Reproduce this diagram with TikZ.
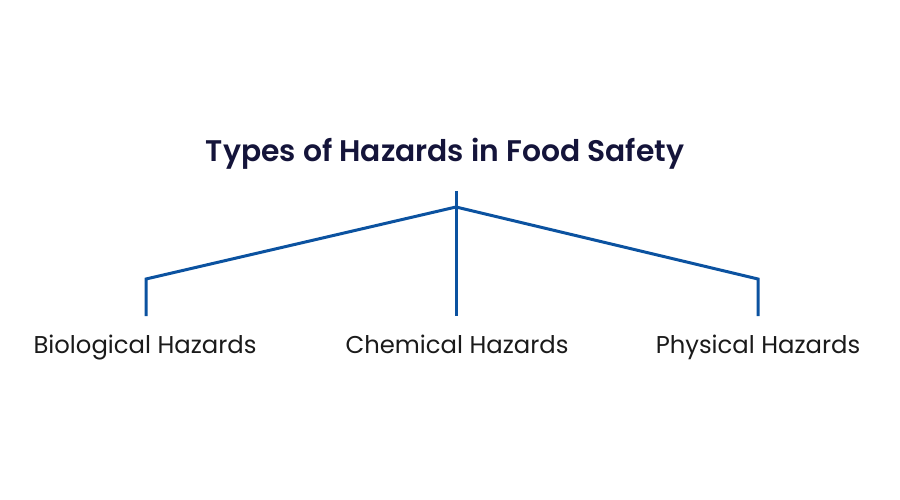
\documentclass[tikz,border=0pt]{standalone}
\usepackage{fontspec}
\setmainfont{Poppins}[BoldFont={Poppins SemiBold}]
\definecolor{linec}{HTML}{0B52A0}
\definecolor{titlec}{HTML}{14143A}
\definecolor{labc}{HTML}{1A1A1A}
\begin{document}
\begin{tikzpicture}[x=1pt,y=-1pt,
  conn/.style={draw=linec,line width=3pt,line cap=butt,line join=miter},
  lab/.style={font=\fontsize{24.3}{28}\selectfont,text=labc,inner sep=0pt,anchor=base},
  ttl/.style={font=\fontsize{29.8}{34}\selectfont\bfseries,text=titlec,inner sep=0pt,anchor=base}]
\useasboundingbox (0,0) rectangle (900,500);
\node[ttl] (title) at (445,162) {Types of Hazards in Food Safety};
\coordinate (top) at (456,191);
\coordinate (hub) at (456,207);
\coordinate (lk) at (146,279);
\coordinate (rk) at (758,279);
\coordinate (le) at (146,316);
\coordinate (me) at (456,316);
\coordinate (re) at (758,316);
\node[lab] (bio) at (145,353) {Biological Hazards};
\node[lab] (chem) at (457,353) {Chemical Hazards};
\node[lab] (phys) at (758,353) {Physical Hazards};
\draw[conn] (top) -- (me);
\draw[conn] (hub) -- (lk) -- (le);
\draw[conn] (hub) -- (rk) -- (re);
\end{tikzpicture}
\end{document}
